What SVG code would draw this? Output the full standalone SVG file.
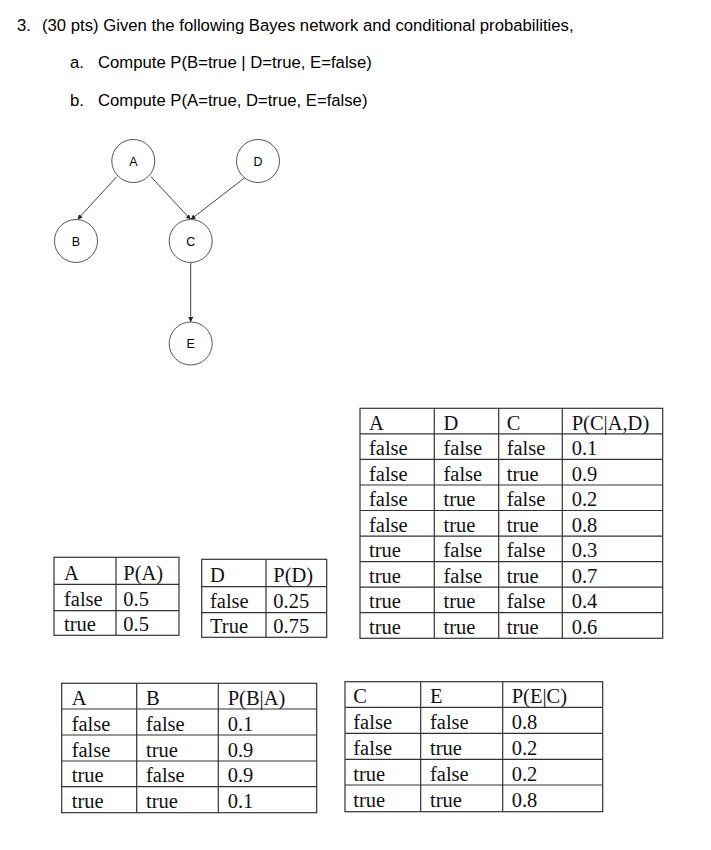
<svg xmlns="http://www.w3.org/2000/svg" width="711" height="850" viewBox="0 0 711 850">
<defs>
<style>
.h{font-family:"Liberation Sans",Arial,sans-serif;font-size:16.7px;fill:#000}
.n{font-family:"Liberation Sans",Arial,sans-serif;font-size:12.5px;fill:#000;text-anchor:middle}
.c{fill:#fff;stroke:#555;stroke-width:1}
.e{stroke:#444;stroke-width:1;fill:none;marker-end:url(#ah)}
.t{font-family:"Liberation Serif","Times New Roman",serif;font-size:20.5px;fill:#111}
.g{stroke:#333;stroke-width:1.2;fill:none}
</style>
<marker id="ah" viewBox="0 0 10 10" refX="10" refY="5" markerWidth="5" markerHeight="5" markerUnits="userSpaceOnUse" orient="auto">
<path d="M0,0 L10,5 L0,10 z" fill="#222"/>
</marker>
</defs>
<rect width="711" height="850" fill="#fff"/>
<g id="header">
<text class="h" x="17" y="31">3.</text>
<text class="h" x="42" y="31">(30 pts) Given the following Bayes network and conditional probabilities,</text>
<text class="h" x="70" y="68">a.</text>
<text class="h" x="98" y="68">Compute P(B=true | D=true, E=false)</text>
<text class="h" x="70" y="106">b.</text>
<text class="h" x="98" y="106">Compute P(A=true, D=true, E=false)</text>
</g>
<g id="connectors">
<line class="e" x1="116.7" y1="176.7" x2="77.5" y2="219.5"/>
<line class="e" x1="151" y1="176.7" x2="190.7" y2="219.5"/>
<line class="e" x1="245" y1="177.5" x2="190.7" y2="219.5"/>
<line class="e" x1="190.7" y1="262.5" x2="190.7" y2="322"/>
</g>
<g id="node-A"><circle class="c" cx="133.3" cy="161" r="21.5"/><text class="n" x="133.3" y="165.5">A</text></g>
<g id="node-D"><circle class="c" cx="258" cy="161" r="21.5"/><text class="n" x="258" y="165.5">D</text></g>
<g id="node-B"><circle class="c" cx="76" cy="241" r="21.5"/><text class="n" x="76" y="245.5">B</text></g>
<g id="node-C"><circle class="c" cx="190.7" cy="241" r="21.5"/><text class="n" x="190.7" y="245.5">C</text></g>
<g id="node-E"><circle class="c" cx="190.7" cy="343.5" r="21.5"/><text class="n" x="190.7" y="348">E</text></g>

<g id="table-C">
<rect class="g" x="360" y="408.3" width="302.7" height="230"/>
<path class="g" d="M434.3,408.3V638.3M498.7,408.3V638.3M562.3,408.3V638.3M360,433.9H662.7M360,459.4H662.7M360,485H662.7M360,510.5H662.7M360,536.1H662.7M360,561.6H662.7M360,587.2H662.7M360,612.7H662.7"/>
<g class="t">
<text x="369" y="429.5">A</text><text x="443.5" y="429.5">D</text><text x="506.7" y="429.5">C</text><text x="571.7" y="429.5">P(C|A,D)</text>
<text x="369" y="455">false</text><text x="443.5" y="455">false</text><text x="506.7" y="455">false</text><text x="571.7" y="455">0.1</text>
<text x="369" y="480.5">false</text><text x="443.5" y="480.5">false</text><text x="506.7" y="480.5">true</text><text x="571.7" y="480.5">0.9</text>
<text x="369" y="506">false</text><text x="443.5" y="506">true</text><text x="506.7" y="506">false</text><text x="571.7" y="506">0.2</text>
<text x="369" y="531.6">false</text><text x="443.5" y="531.6">true</text><text x="506.7" y="531.6">true</text><text x="571.7" y="531.6">0.8</text>
<text x="369" y="557.1">true</text><text x="443.5" y="557.1">false</text><text x="506.7" y="557.1">false</text><text x="571.7" y="557.1">0.3</text>
<text x="369" y="582.7">true</text><text x="443.5" y="582.7">false</text><text x="506.7" y="582.7">true</text><text x="571.7" y="582.7">0.7</text>
<text x="369" y="608.2">true</text><text x="443.5" y="608.2">true</text><text x="506.7" y="608.2">false</text><text x="571.7" y="608.2">0.4</text>
<text x="369" y="633.8">true</text><text x="443.5" y="633.8">true</text><text x="506.7" y="633.8">true</text><text x="571.7" y="633.8">0.6</text>
</g>
</g>

<g id="table-A">
<rect class="g" x="54" y="557.3" width="125" height="78"/>
<path class="g" d="M116,557.3V635.3M54,584.3H179M54,610.7H179"/>
<g class="t">
<text x="64" y="579.5">A</text><text x="123.3" y="579.5">P(A)</text>
<text x="64" y="606">false</text><text x="123.3" y="606">0.5</text>
<text x="64" y="631">true</text><text x="123.3" y="631">0.5</text>
</g>
</g>

<g id="table-D">
<rect class="g" x="201.7" y="559.3" width="125" height="78"/>
<path class="g" d="M266,559.3V637.3M201.7,586.7H326.7M201.7,612.7H326.7"/>
<g class="t">
<text x="210" y="582">D</text><text x="273.3" y="582">P(D)</text>
<text x="210" y="608">false</text><text x="273.3" y="608">0.25</text>
<text x="210" y="633">True</text><text x="273.3" y="633">0.75</text>
</g>
</g>

<g id="table-B">
<rect class="g" x="61.7" y="683.3" width="255" height="129.4"/>
<path class="g" d="M136.7,683.3V812.7M218.3,683.3V812.7M61.7,709H316.7M61.7,735H316.7M61.7,761H316.7M61.7,786.7H316.7"/>
<g class="t">
<text x="71.7" y="704.5">A</text><text x="146" y="704.5">B</text><text x="227.7" y="704.5">P(B|A)</text>
<text x="71.7" y="730.5">false</text><text x="146" y="730.5">false</text><text x="227.7" y="730.5">0.1</text>
<text x="71.7" y="756.5">false</text><text x="146" y="756.5">true</text><text x="227.7" y="756.5">0.9</text>
<text x="71.7" y="782.3">true</text><text x="146" y="782.3">false</text><text x="227.7" y="782.3">0.9</text>
<text x="71.7" y="808">true</text><text x="146" y="808">true</text><text x="227.7" y="808">0.1</text>
</g>
</g>

<g id="table-E">
<rect class="g" x="345" y="681.7" width="257.7" height="130"/>
<path class="g" d="M420.7,681.7V811.7M502.7,681.7V811.7M345,707.3H602.7M345,733.3H602.7M345,759.3H602.7M345,785H602.7"/>
<g class="t">
<text x="353.3" y="703">C</text><text x="430" y="703">E</text><text x="511.7" y="703">P(E|C)</text>
<text x="353.3" y="728.8">false</text><text x="430" y="728.8">false</text><text x="511.7" y="728.8">0.8</text>
<text x="353.3" y="754.8">false</text><text x="430" y="754.8">true</text><text x="511.7" y="754.8">0.2</text>
<text x="353.3" y="780.6">true</text><text x="430" y="780.6">false</text><text x="511.7" y="780.6">0.2</text>
<text x="353.3" y="807">true</text><text x="430" y="807">true</text><text x="511.7" y="807">0.8</text>
</g>
</g>
</svg>
